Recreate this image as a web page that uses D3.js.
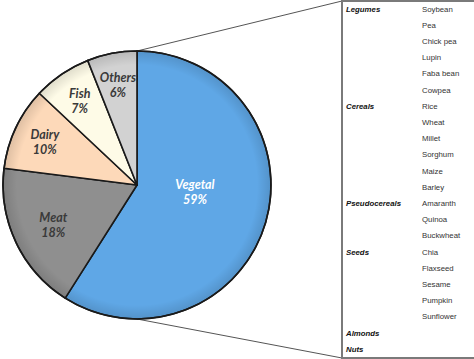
<!DOCTYPE html>
<html><head><meta charset="utf-8">
<script src="https://cdn.jsdelivr.net/npm/d3@7"></script>
<style>
html,body{margin:0;padding:0;background:#fff;}
svg{display:block;}
</style></head>
<body>
<svg id="chart" width="474" height="359"></svg>
<script>
// ---- data ----
const categories = ["Vegetal", "Meat", "Dairy", "Fish", "Others"];
const values = [59, 18, 10, 7, 6];
const sliceColors = ["#5fa7e6", "#8f8f8f", "#fdd9b9", "#fefbe7", "#d2d2d2"];
const groupNames = ["Legumes", "Cereals", "Pseudocereals", "Seeds", "Almonds", "Nuts"];
const legumes = ["Soybean", "Pea", "Chick pea", "Lupin", "Faba bean", "Cowpea"];
const cereals = ["Rice", "Wheat", "Millet", "Sorghum", "Maize", "Barley"];
const pseudocereals = ["Amaranth", "Quinoa", "Buckwheat"];
const seeds = ["Chia", "Flaxseed", "Sesame", "Pumpkin", "Sunflower"];
const almonds = [];
const nuts = [];
const groupItems = [legumes, cereals, pseudocereals, seeds, almonds, nuts];

// ---- layout ----
const svg = d3.select("#chart");
const cx = 137, cy = 185, R = 134;
const box = {x: 342, y: 1, w: 140, h: 357};

// connector lines
const conn = svg.append("g").attr("stroke", "#555").attr("stroke-width", 1);
conn.append("line").attr("x1", cx).attr("y1", cy - R).attr("x2", box.x).attr("y2", box.y);
conn.append("line").attr("x1", cx).attr("y1", cy + R).attr("x2", box.x).attr("y2", box.y + box.h);

// pie
const pie = d3.pie().sort(null).value(d => d.v)(categories.map((c, i) => ({c, v: values[i], i})));
const arc = d3.arc().innerRadius(0).outerRadius(R);
const defs = svg.append("defs");
const grad = defs.append("radialGradient").attr("id", "shade").attr("cx", "50%").attr("cy", "50%").attr("r", "50%");
grad.append("stop").attr("offset", "0.9").attr("stop-color", "#000").attr("stop-opacity", 0);
grad.append("stop").attr("offset", "1").attr("stop-color", "#000").attr("stop-opacity", 0.12);

const g = svg.append("g").attr("transform", `translate(${cx},${cy})`);
g.selectAll("path.slice").data(pie).join("path")
  .attr("class", "slice")
  .attr("d", arc)
  .attr("fill", d => sliceColors[d.data.i])
  .attr("stroke", "#1a1a1a").attr("stroke-width", 1.6).attr("stroke-linejoin", "round");
g.append("circle").attr("r", R - 0.5).attr("fill", "url(#shade)").attr("pointer-events", "none");
g.append("circle").attr("r", R).attr("fill", "none").attr("stroke", "#1a1a1a").attr("stroke-width", 1.6);

// labels
const total = d3.sum(values);
const labelR = d => (d.value / total > 0.5 ? 0.45 : (d.value / total > 0.15 ? 0.69 : 0.76)) * R;
const lbl = g.selectAll("text.lbl").data(pie).join("text")
  .attr("class", "lbl")
  .attr("transform", d => {
    const a = (d.startAngle + d.endAngle) / 2;
    const r = labelR(d);
    const dy = d.value / total > 0.5 ? -10 : 0;
    return `translate(${r * Math.sin(a)},${-r * Math.cos(a) + dy})`;
  })
  .attr("text-anchor", "middle")
  .attr("font-family", "Lato, 'Open Sans', sans-serif")
  .attr("font-weight", "bold").attr("font-style", "italic").attr("font-size", 12.5)
  .attr("fill", d => d.data.i === 0 ? "#ffffff" : "#3a3a3a");
lbl.append("tspan").attr("x", 0).attr("dy", "-0.2em").text(d => d.data.c);
lbl.append("tspan").attr("x", 0).attr("dy", "1.2em").text(d => Math.round(d.value / total * 100) + "%");

// table box
svg.append("rect").attr("x", box.x).attr("y", box.y).attr("width", box.w).attr("height", box.h)
  .attr("fill", "#fff").attr("stroke", "#7a7a7a").attr("stroke-width", 2);

const rows = [];
groupNames.forEach((gname, gi) => {
  const items = groupItems[gi];
  if (items.length === 0) rows.push({group: gname, item: ""});
  else items.forEach((it, k) => rows.push({group: k === 0 ? gname : "", item: it}));
});
const yRow = d3.scaleLinear().domain([0, rows.length - 1]).range([9, 349]);
const tg = svg.append("g").attr("font-family", "'Liberation Sans', Arial, sans-serif").attr("font-size", 7.8);
tg.selectAll("text.grp").data(rows.filter(r => r.group)).join("text")
  .attr("class", "grp")
  .attr("x", 346).attr("y", d => yRow(rows.indexOf(d))).attr("dy", "0.35em")
  .attr("font-weight", "bold").attr("font-style", "italic").attr("fill", "#111")
  .text(d => d.group);
tg.selectAll("text.item").data(rows.filter(r => r.item)).join("text")
  .attr("class", "item")
  .attr("x", 422).attr("y", d => yRow(rows.indexOf(d))).attr("dy", "0.35em")
  .attr("fill", "#333")
  .text(d => d.item);
</script>
</body></html>
